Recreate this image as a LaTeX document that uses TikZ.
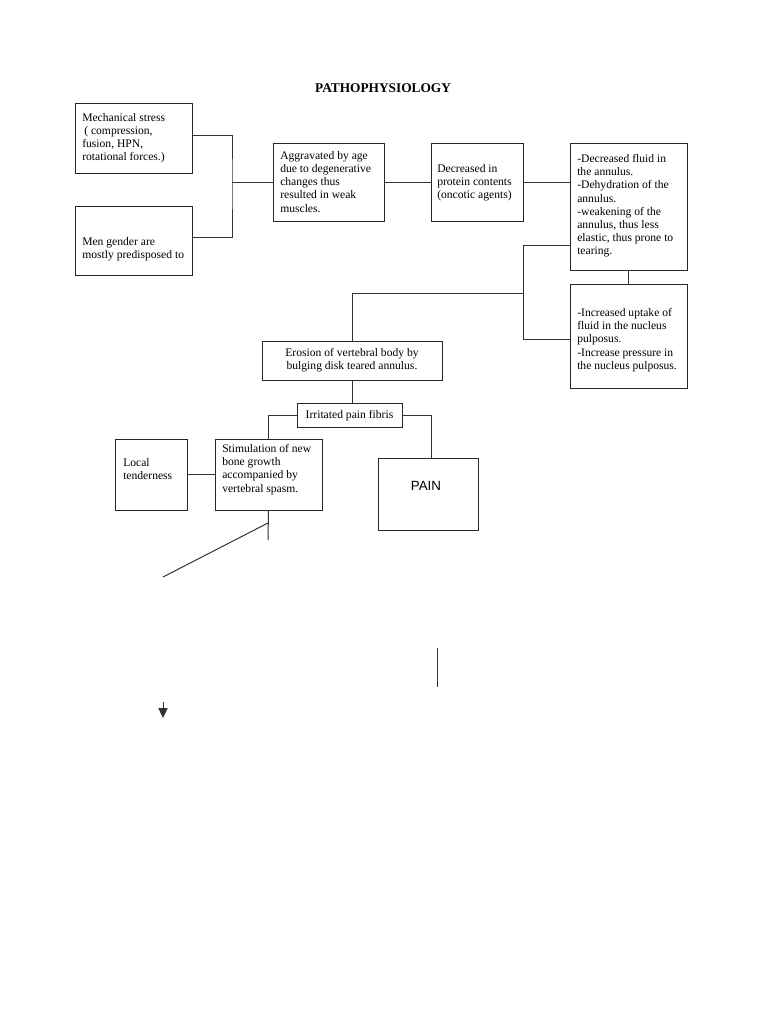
\documentclass[tikz,border=0pt]{standalone}
\usepackage{fontspec}
\setmainfont{Liberation Serif}
\newfontfamily\arialf{Liberation Sans}
\usetikzlibrary{arrows.meta}
\begin{document}
\begin{tikzpicture}[x=0.75pt,y=-0.75pt,
  box/.style={draw=black!85, line width=0.75pt, inner sep=0pt, outer sep=0pt, rectangle},
  bw/.style={minimum width=#1*0.75pt},
  bh/.style={minimum height=#1*0.75pt},
  txt/.style={inner sep=0pt, anchor=north west, align=left, font=\fontsize{8.7}{9.9}\selectfont},
  ctxt/.style={inner sep=0pt, align=center, font=\fontsize{8.7}{9.9}\selectfont},
  ln/.style={draw=black!80, line width=0.75pt}]
\useasboundingbox[fill=white] (0,0) rectangle (768,1024);

% title
\node[inner sep=0pt, font=\bfseries\fontsize{10}{12}\selectfont] (title) at (383,88) {PATHOPHYSIOLOGY};

% boxes
\node[box, bw=117, bh=70]  (A) at (133.5,138) {};
\node[box, bw=117, bh=69]  (B) at (133.5,240.5) {};
\node[box, bw=111, bh=78]  (C) at (328.5,182) {};
\node[box, bw=92,  bh=78]  (D) at (477,182) {};
\node[box, bw=117, bh=127] (E) at (628.5,206.5) {};
\node[box, bw=117, bh=104] (F) at (628.5,336) {};
\node[box, bw=180, bh=39]  (G) at (352,360.5) {};
\node[box, bw=105, bh=24]  (H) at (349.5,415) {};
\node[box, bw=107, bh=71]  (I) at (268.5,474.5) {};
\node[box, bw=72,  bh=71]  (J) at (151,474.5) {};
\node[box, bw=100, bh=72]  (P) at (428,494) {};

% texts
\node[txt] (tA) at (82,113) {Mechanical stress\\\hspace{1.5pt}( compression,\\fusion, HPN,\\rotational forces.)};
\node[txt] (tB) at (82,237) {Men gender are\\mostly predisposed to};
\node[txt] (tC) at (280,151) {Aggravated by age\\due to degenerative\\changes thus\\resulted in weak\\muscles.};
\node[txt] (tD) at (437,164) {Decreased in\\protein contents\\(oncotic agents)};
\node[txt] (tE) at (577,154) {-Decreased fluid in\\the annulus.\\-Dehydration of the\\annulus.\\-weakening of the\\annulus, thus less\\elastic, thus prone to\\tearing.};
\node[txt] (tF) at (577,308) {-Increased uptake of\\fluid in the nucleus\\pulposus.\\-Increase pressure in\\the nucleus pulposus.};
\node[ctxt] (tG) at (352,360) {Erosion of vertebral body by\\bulging disk teared annulus.};
\node[ctxt] (tH) at (349.5,415.5) {Irritated pain fibris};
\node[txt] (tI) at (222,444) {Stimulation of new\\bone growth\\accompanied by\\vertebral spasm.};
\node[txt] (tJ) at (123,458) {Local\\tenderness};
\node[inner sep=0pt, font=\arialf\fontsize{10}{12}\selectfont] (tP) at (426,486) {PAIN};

% junction coordinates
\coordinate (jAB) at (232,182);
\coordinate (b1) at (523,245);
\coordinate (b2) at (523,339);
\coordinate (jEF) at (523,293);
\coordinate (c1) at (268,540);
\coordinate (d0) at (268,523);
\coordinate (d1) at (163,577);
\coordinate (v0) at (437,648);
\coordinate (v1) at (437,687);
\coordinate (a0) at (163,702);
\coordinate (a1) at (163,718);

% connectors
\draw[ln] ([yshift=2.25pt]A.east) -| (jAB) |- ([yshift=2.6pt]B.east);
\draw[ln] (jAB) -- (C.west);
\draw[ln] (C.east) -- (D.west);
\draw[ln] (D.east) -- (D.east -| E.west);
\draw[ln] (E.south) -- (F.north);
\draw[ln] (b1 -| E.west) -- (b1) -- (b2) -- (b2 -| F.west);
\draw[ln] (jEF) -| (G.north);
\draw[ln] (G.south) -- (G.south |- H.north);
\draw[ln] (H.west) -| (I.north);
\draw[ln] (H.east) -| ([xshift=2.25pt]P.north);
\draw[ln] (J.east) -- (I.west);
\draw[ln] (I.south) -- (c1);
\draw[ln] (d0) -- (d1);
\draw[ln] (v0) -- (v1);
\draw[ln, -{Triangle[width=7pt,length=7.5pt]}] (a0) -- (a1);
\end{tikzpicture}
\end{document}
